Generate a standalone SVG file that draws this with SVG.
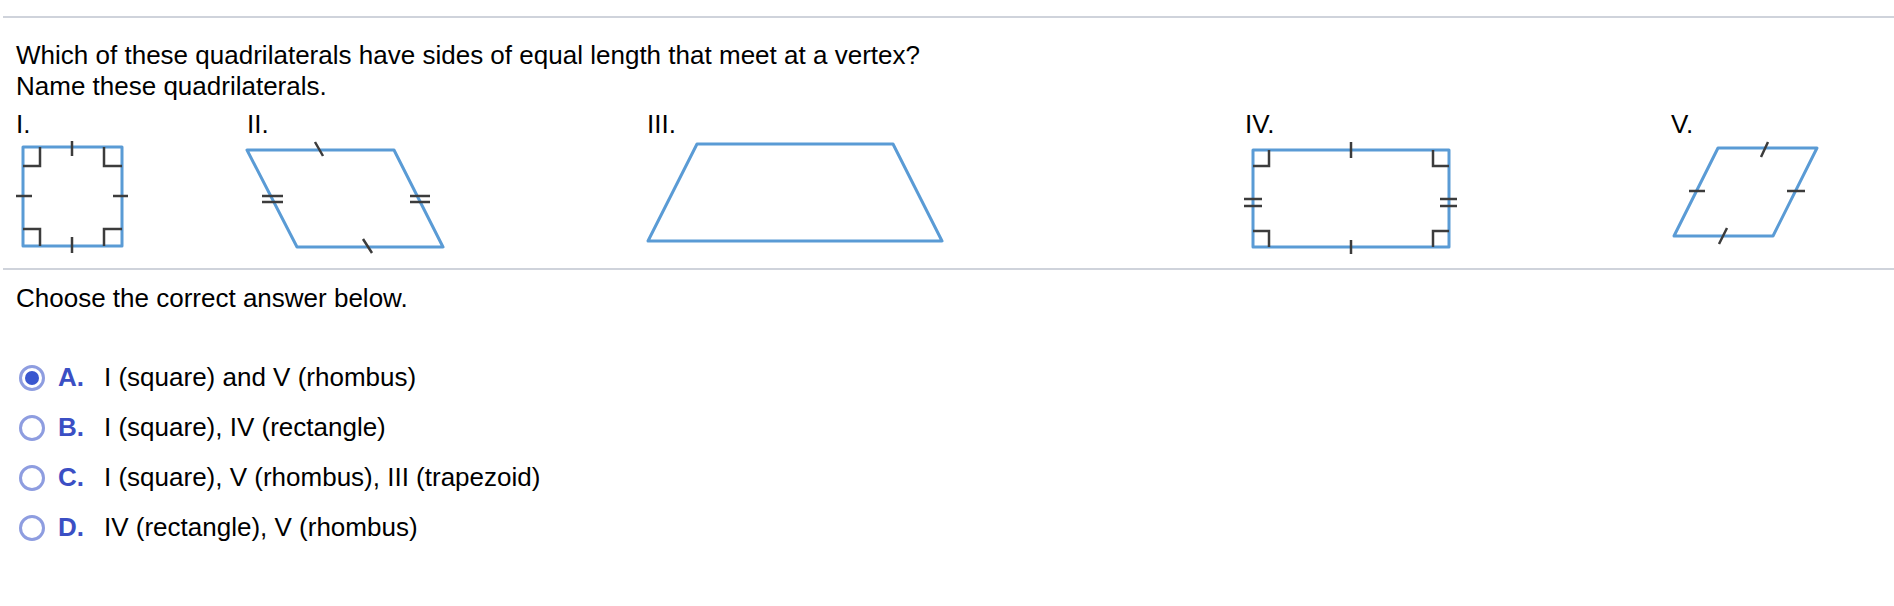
<svg xmlns="http://www.w3.org/2000/svg" width="1894" height="606" viewBox="0 0 1894 606">
<style>
text{font-family:"Liberation Sans",Arial,sans-serif;font-size:26px;fill:#000}
.sep{stroke:#cfd3db;stroke-width:2}
.shape{fill:none;stroke:#5a9bd5;stroke-width:3;stroke-linejoin:round}
.tick{fill:none;stroke:#3c3c3c;stroke-width:2.5}
.lbl{font-weight:bold;fill:#3b4fc4}
.radio{fill:#fff;stroke:#8e9de0;stroke-width:3}
</style>
<rect width="1894" height="606" fill="#fff"/>
<line class="sep" x1="3" y1="17" x2="1894" y2="17"/>
<text x="16" y="64" textLength="904" lengthAdjust="spacing">Which of these quadrilaterals have sides of equal length that meet at a vertex?</text>
<text x="16" y="95">Name these quadrilaterals.</text>

<g id="shape1">
<text x="16" y="133">I.</text>
<rect class="shape" x="23" y="147" width="99" height="99"/>
<path class="tick" d="M23 166H40V147M104 147V166H122M23 229H40V246M104 246V229H122"/>
<path class="tick" d="M72 141V156M72 237V253M16 196H32M113 196H128"/>
</g>

<g id="shape2">
<text x="247" y="133">II.</text>
<polygon class="shape" points="247,150 394,150 443,247 297,247"/>
<path class="tick" d="M315 142L323 156M363 239L372 253M262 196H283M262 202H283M410 196H430M410 202H430"/>
</g>

<g id="shape3">
<text x="647" y="133">III.</text>
<polygon class="shape" points="697,144 893,144 942,241 648,241"/>
</g>

<g id="shape4">
<text x="1245" y="133">IV.</text>
<rect class="shape" x="1253" y="150" width="196" height="97"/>
<path class="tick" d="M1253 166H1269V150M1433 150V166H1449M1253 231H1269V247M1433 247V231H1449"/>
<path class="tick" d="M1351 142V158M1351 240V254M1244 199H1262M1244 206H1262M1440 199H1457M1440 206H1457"/>
</g>

<g id="shape5">
<text x="1671" y="133">V.</text>
<polygon class="shape" points="1718,148 1817,148 1773,236 1674,236"/>
<path class="tick" d="M1768 142L1761 157M1727 228L1719 244M1689 191H1705M1787 191H1805"/>
</g>

<line class="sep" x1="3" y1="269" x2="1894" y2="269"/>
<text x="16" y="307">Choose the correct answer below.</text>

<g id="optionA">
<circle class="radio" cx="32" cy="378" r="11.5" stroke="#a3b0e8"/>
<circle cx="32" cy="378" r="7" fill="#3a57cf"/>
<text class="lbl" x="58" y="386">A.</text>
<text x="104" y="386">I (square) and V (rhombus)</text>
</g>
<g id="optionB">
<circle class="radio" cx="32" cy="428" r="11.5"/>
<text class="lbl" x="58" y="436">B.</text>
<text x="104" y="436">I (square), IV (rectangle)</text>
</g>
<g id="optionC">
<circle class="radio" cx="32" cy="478" r="11.5"/>
<text class="lbl" x="58" y="486">C.</text>
<text x="104" y="486">I (square), V (rhombus), III (trapezoid)</text>
</g>
<g id="optionD">
<circle class="radio" cx="32" cy="528" r="11.5"/>
<text class="lbl" x="58" y="536">D.</text>
<text x="104" y="536">IV (rectangle), V (rhombus)</text>
</g>
</svg>
